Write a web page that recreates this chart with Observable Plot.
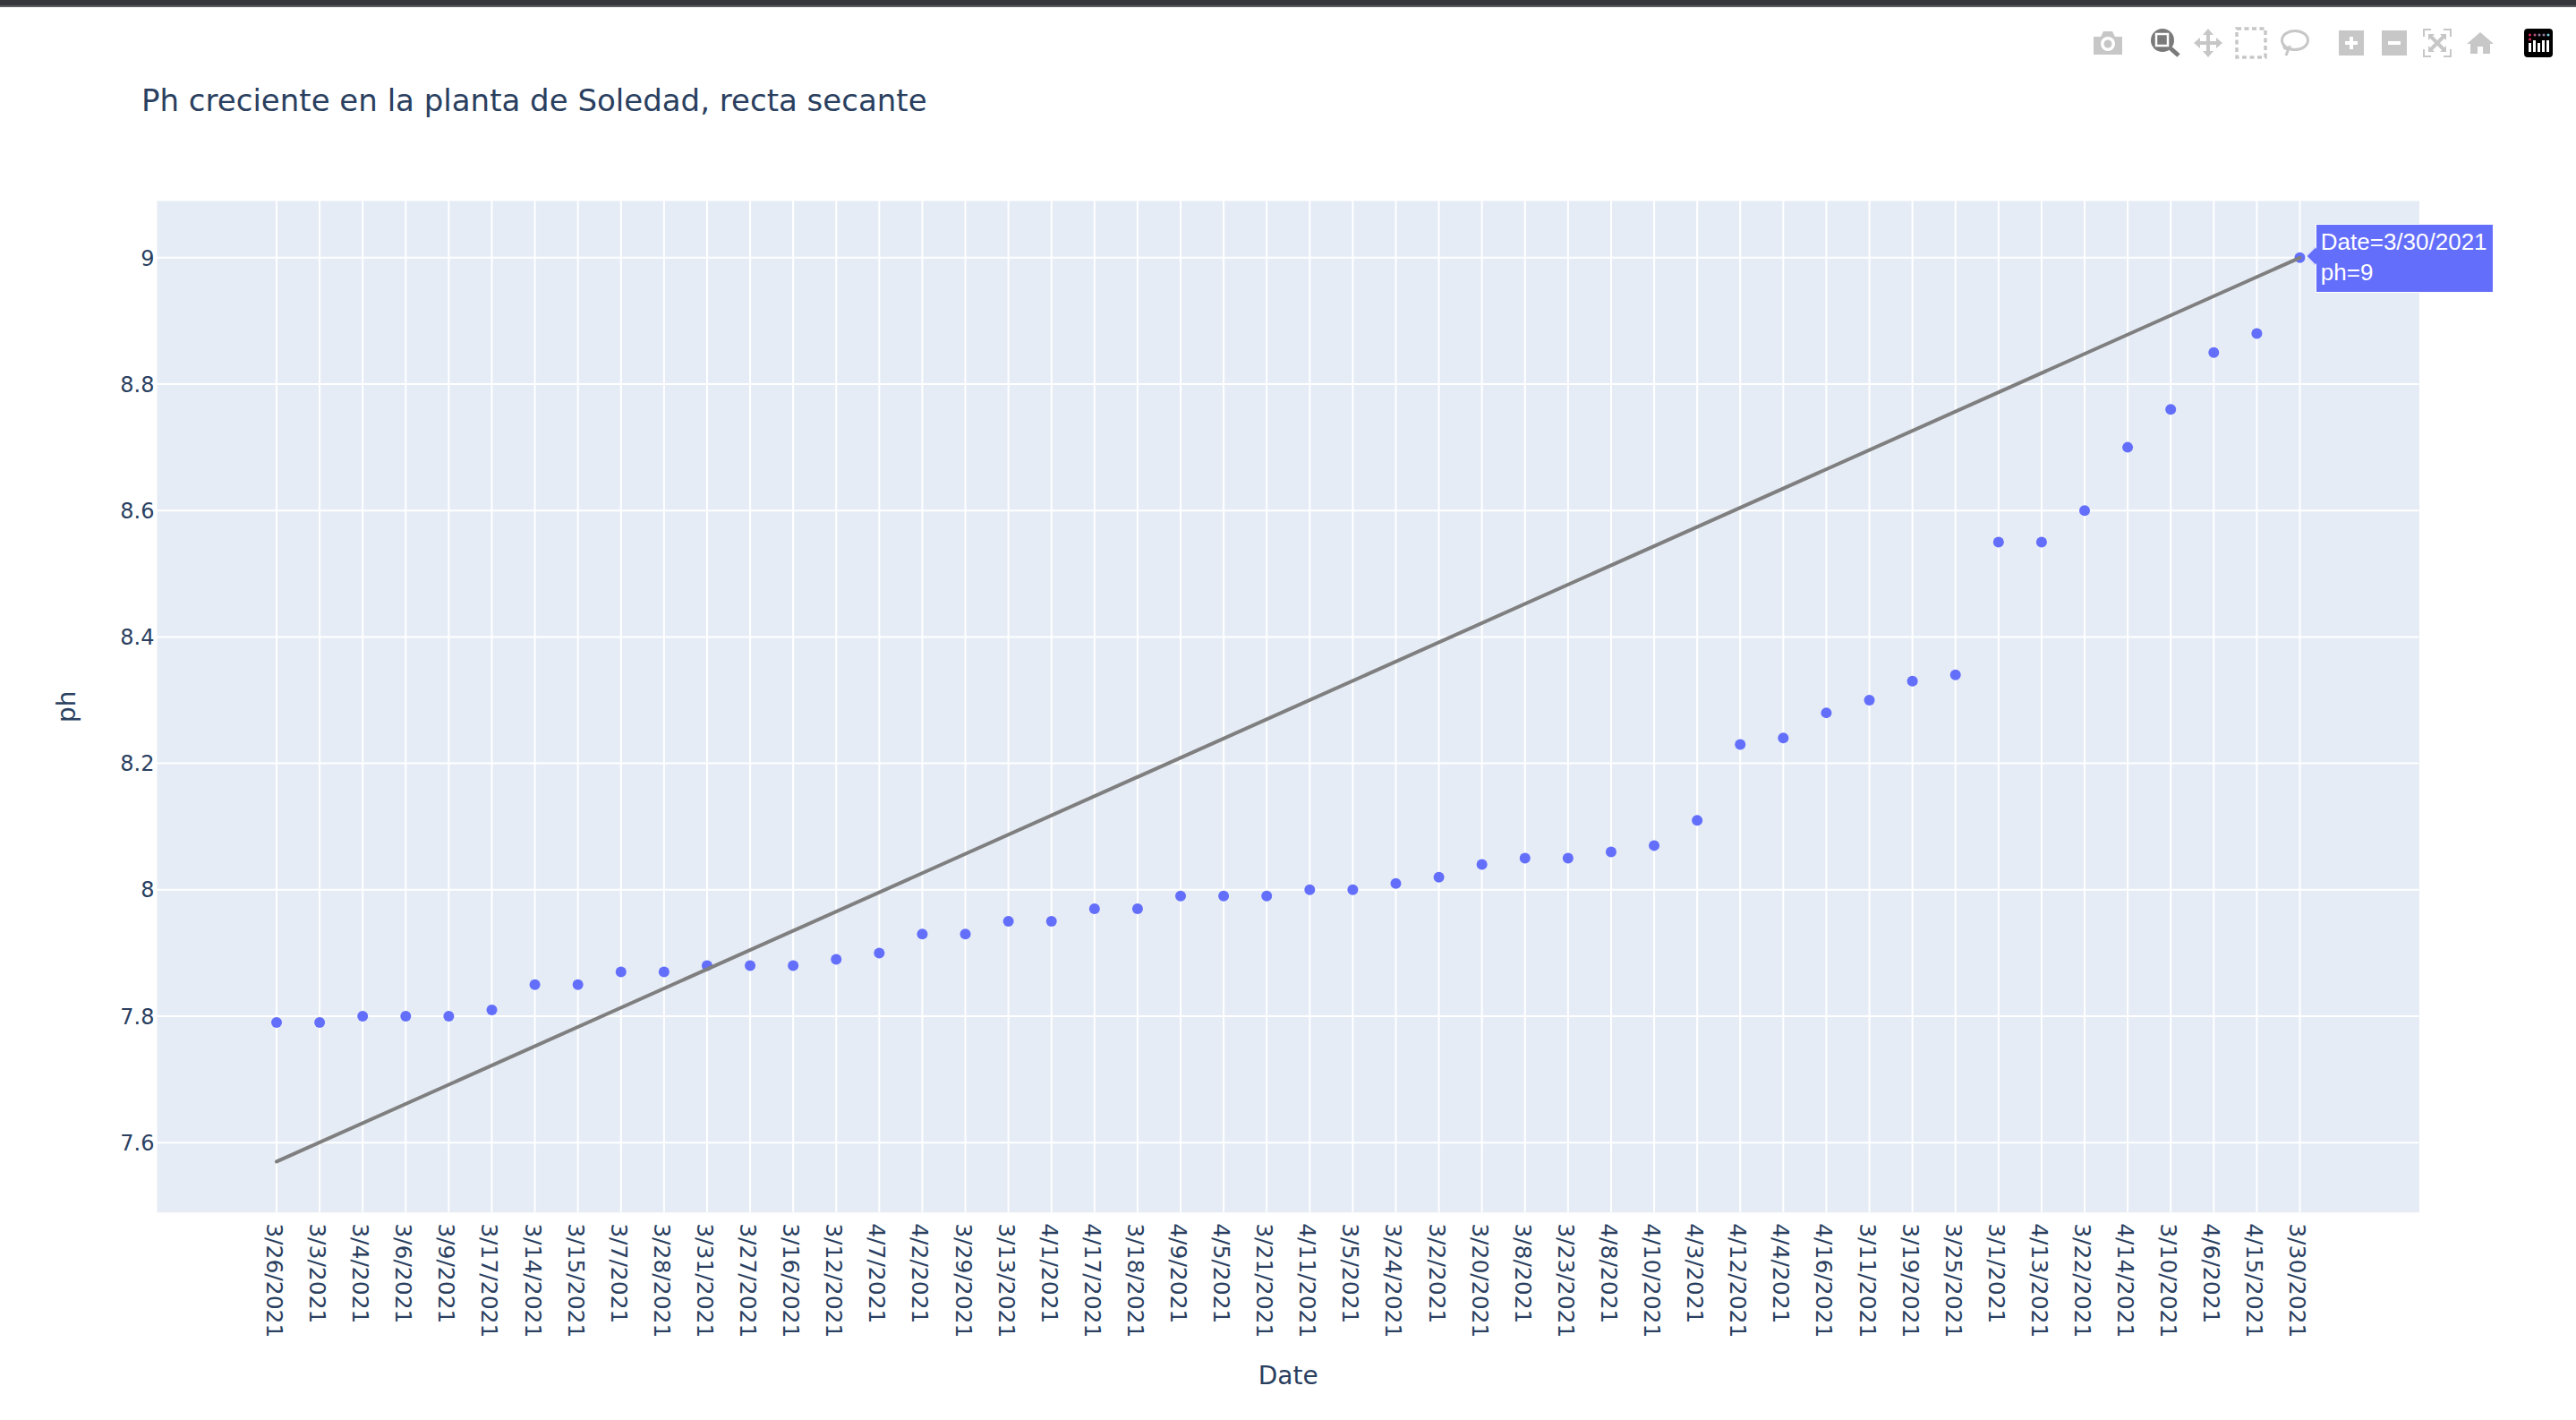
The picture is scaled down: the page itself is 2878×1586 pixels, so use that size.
<!DOCTYPE html>
<html lang="es">
<head>
<meta charset="utf-8">
<title>Ph creciente</title>
<script src="https://cdn.jsdelivr.net/npm/d3@7"></script>
<script src="https://cdn.jsdelivr.net/npm/@observablehq/plot@0.6"></script>
<style>
  html,body{margin:0;padding:0;background:#fff;width:2878px;height:1586px;overflow:hidden;position:relative}
  #header{position:relative;width:2878px;height:190px;overflow:hidden}
  #bar{position:absolute;left:0;top:0;width:100%;height:5.5px;background:#36373d;border-bottom:2px solid #5c5d62}
  #title{position:absolute;left:158px;top:88px;font:34px "DejaVu Sans",sans-serif;color:#2a3f5f;line-height:48px;white-space:nowrap}
  #modebar{position:absolute;left:0;top:0}
  #chart svg{display:block;overflow:visible}
  #hover{position:absolute;box-sizing:border-box;width:199px;height:77px;background:#636EFA;border:1.8px solid #fff;color:#fff;font:26px/34px "Liberation Sans",Arial,sans-serif;padding:2px 0 0 5px;white-space:pre}
  #hover i{position:absolute;left:-9px;top:28px;width:14px;height:14px;box-sizing:border-box;background:#636EFA;border-left:1.8px solid #fff;border-bottom:1.8px solid #fff;transform:rotate(45deg)}
</style>
</head>
<body>
<div id="header">
  <div id="bar"></div>
  <div id="title">Ph creciente en la planta de Soledad, recta secante</div>
  <svg id="modebar" width="2878" height="190" fill="#c7c7c7" stroke="none">
    <path d="M2339 41h8l3-6h10l3 6h8v20h-32z"/><circle cx="2355" cy="49" r="8" fill="#fff"/><circle cx="2355" cy="49" r="4.5"/>
    <circle cx="2416" cy="45" r="13" fill="#7a7a7a"/><rect x="2409" y="38" width="13" height="13" fill="#7a7a7a" stroke="#fff" stroke-width="2.5"/><path d="M2425 54l9 8" stroke="#7a7a7a" stroke-width="5"/>
    <path d="M2467 32l6 7h-4v7h7v-4l7 6-7 6v-4h-7v7h4l-6 7-6-7h4v-7h-7v4l-7-6 7-6v4h7v-7h-4z"/>
    <path d="M2499 32h32v32h-32z" fill="none" stroke="#c7c7c7" stroke-width="3.5" stroke-dasharray="5 3.5"/>
    <ellipse cx="2564" cy="45" rx="14.5" ry="10.5" fill="none" stroke="#c7c7c7" stroke-width="3"/><path d="M2552 50c-2 6 7 6 6 1M2557 54l-3 8" fill="none" stroke="#c7c7c7" stroke-width="3"/>
    <rect x="2613" y="34" width="28" height="28"/><path d="M2627 41v14M2620 48h14" stroke="#fff" stroke-width="4"/>
    <rect x="2661" y="34" width="28" height="28"/><path d="M2668 48h14" stroke="#fff" stroke-width="4"/>
    <path d="M2708 41v-8h8M2730 33h8v8M2738 55v8h-8M2716 63h-8v-8" fill="none" stroke="#c7c7c7" stroke-width="2"/><path d="M2715 40l16 16M2731 40l-16 16" stroke="#c7c7c7" stroke-width="4"/><path d="M2713 38h7l-7 7zM2733 38v7l-7-7zM2733 58h-7l7-7zM2713 58v-7l7 7z"/>
    <path d="M2771 36l15 13h-4v11h-8v-8h-6v8h-8V49h-4z"/>
    <rect x="2820" y="32" width="32" height="32" rx="4" fill="#000"/>
    <g fill="#fff"><rect x="2825" y="48" width="3" height="10"/><rect x="2830" y="45" width="3" height="13"/><rect x="2835" y="48" width="3" height="10"/><rect x="2840" y="45" width="3" height="13"/><rect x="2845" y="45" width="3" height="13"/></g>
    <g><circle cx="2826.5" cy="39" r="1.5" fill="#e6255f"/><circle cx="2826.5" cy="44" r="1.5" fill="#e6255f"/><circle cx="2832" cy="39" r="1.5" fill="#b5547f"/><circle cx="2837" cy="39" r="1.5" fill="#8f7fa0"/><circle cx="2842" cy="39" r="1.5" fill="#8f7fa0"/><circle cx="2847" cy="39" r="1.5" fill="#7fd0e0"/></g>
  </svg>
</div>
<div id="chart"></div>
<script>
const dates = ["3/26/2021","3/3/2021","3/4/2021","3/6/2021","3/9/2021","3/17/2021","3/14/2021","3/15/2021","3/7/2021","3/28/2021","3/31/2021","3/27/2021","3/16/2021","3/12/2021","4/7/2021","4/2/2021","3/29/2021","3/13/2021","4/1/2021","4/17/2021","3/18/2021","4/9/2021","4/5/2021","3/21/2021","4/11/2021","3/5/2021","3/24/2021","3/2/2021","3/20/2021","3/8/2021","3/23/2021","4/8/2021","4/10/2021","4/3/2021","4/12/2021","4/4/2021","4/16/2021","3/11/2021","3/19/2021","3/25/2021","3/1/2021","4/13/2021","3/22/2021","4/14/2021","3/10/2021","4/6/2021","4/15/2021","3/30/2021"];
const ph = [7.79,7.79,7.8,7.8,7.8,7.81,7.85,7.85,7.87,7.87,7.88,7.88,7.88,7.89,7.9,7.93,7.93,7.95,7.95,7.97,7.97,7.99,7.99,7.99,8,8,8.01,8.02,8.04,8.05,8.05,8.06,8.07,8.11,8.23,8.24,8.28,8.3,8.33,8.34,8.55,8.55,8.6,8.7,8.76,8.85,8.88,9];
const secantDates = ["3/26/2021","3/30/2021"];
const secantPh = [7.57,9];
const hoverDate = "3/30/2021";
const hoverPh = 9;
const yTicks = [7.6,7.8,8,8.2,8.4,8.6,8.8,9];

const points = dates.map((Date,i)=>({Date,ph:ph[i]}));
const secant = secantDates.map((Date,i)=>({Date,ph:secantPh[i]}));
const ink = "#2a3f5f";

const chart = Plot.plot({
  width:2878, height:1396,
  marginLeft:175, marginRight:175.5, marginTop:34, marginBottom:232.3,
  style:{background:"#fff",fontFamily:'"DejaVu Sans",sans-serif',color:ink},
  x:{type:"point",domain:dates,padding:2.776,round:false,label:null},
  y:{domain:[7.4895,9.0897],label:null},
  marks:[
    Plot.frame({fill:"#E5ECF6"}),
    Plot.gridX({stroke:"#fff",strokeOpacity:1,strokeWidth:2}),
    Plot.gridY(yTicks,{stroke:"#fff",strokeOpacity:1,strokeWidth:2}),
    Plot.axisX({anchor:"bottom",tickRotate:90,tickSize:0,tickPadding:12,dx:-3,fontSize:25,color:ink,label:"Date",labelAnchor:"center",labelArrow:"none",labelOffset:192}),
    Plot.axisY(yTicks,{anchor:"left",tickSize:0,tickPadding:3,dy:1,fontSize:24,color:ink,tickFormat:d=>String(d),label:"ph",labelAnchor:"center",labelArrow:"none",labelOffset:111}),
    Plot.dot(points,{x:"Date",y:"ph",r:6,fill:"#636EFA",stroke:"none"}),
    Plot.line(secant,{x:"Date",y:"ph",stroke:"#7f7f7f",strokeWidth:4})
  ]
});
chart.querySelectorAll('[aria-label="y-axis label"] text, [aria-label="x-axis label"] text').forEach(t=>t.setAttribute("font-size","28"));
document.getElementById("chart").append(chart);

// hover label, placed from the chart's own scales
const hx = chart.scale("x").apply(hoverDate);
const hy = chart.scale("y").apply(hoverPh) + 190;
const hoverBox = document.createElement("div");
hoverBox.id = "hover";
hoverBox.style.left = (hx + 17.8) + "px";
hoverBox.style.top = (hy - 37.8) + "px";
hoverBox.textContent = `Date=${hoverDate}\nph=${hoverPh}`;
hoverBox.append(document.createElement("i"));
document.body.append(hoverBox);
</script>
</body>
</html>
